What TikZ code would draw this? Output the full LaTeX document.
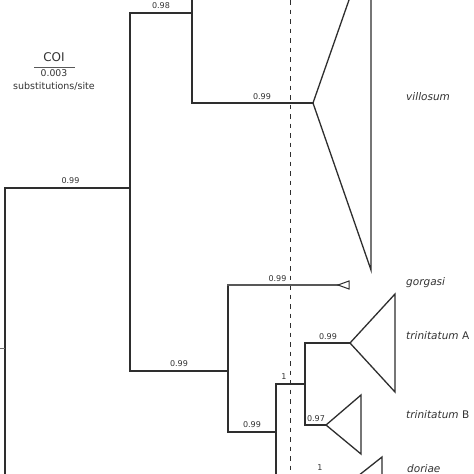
\documentclass[tikz,border=0pt]{standalone}
\usepackage{fontspec}
\setmainfont{DejaVu Sans}
\definecolor{ln}{HTML}{2E2E2E}
\definecolor{tx}{HTML}{333333}
\tikzset{
  br/.style={draw=ln, line width=1.3pt, line cap=rect, line join=miter},
  clade/.style={draw=ln, line width=1.3pt, line join=miter},
  supp/.style={text=tx, font=\fontsize{8}{8}\selectfont, inner sep=0pt},
  taxon/.style={text=tx, font=\fontsize{10.5}{11}\selectfont, anchor=west, inner sep=0pt},
  cutline/.style={draw=ln, line width=1pt, dash pattern=on 4.5pt off 5pt}
}
\begin{document}
\begin{tikzpicture}[x=1pt,y=-1pt]
\useasboundingbox (0,0) rectangle (474,474);
\clip (0,0) rectangle (474,474);
\fill[white] (0,0) rectangle (474,474);
% coordinates
\coordinate (rootbot) at (5,480);
\coordinate (rootA) at (5,188);
\coordinate (tick) at (0,348);
\coordinate (tickR) at (5,348);
\coordinate (nA) at (130,188);
\coordinate (nAt) at (130,13);
\coordinate (nAb) at (130,371);
\coordinate (nB) at (192,13);
\coordinate (nBt) at (192,-5);
\coordinate (nBb) at (192,103);
\coordinate (vil) at (313,103);
\coordinate (vilT) at (371,-63);
\coordinate (vilB) at (371,270);
\coordinate (nC) at (228,371);
\coordinate (nCt) at (228,285);
\coordinate (nCb) at (228,432);
\coordinate (gor) at (338,285);
\coordinate (gorT) at (349,281);
\coordinate (gorB) at (349,289);
\coordinate (nD) at (276,432);
\coordinate (nDt) at (276,384);
\coordinate (nDb) at (276,480);
\coordinate (nE) at (305,384);
\coordinate (nEt) at (305,343);
\coordinate (nEb) at (305,425);
\coordinate (triA) at (350,343);
\coordinate (triAT) at (395,294);
\coordinate (triAB) at (395,392);
\coordinate (triB) at (326,425);
\coordinate (triBT) at (361,395);
\coordinate (triBB) at (361,454);
\coordinate (dor) at (358,476);
\coordinate (dorT) at (382,457);
\coordinate (dorB) at (382,495);
\coordinate (cutT) at (290,0);
\coordinate (cutB) at (290,474);

% dashed line
\draw[cutline] (cutT) -- (cutB);

% tree branches
\draw[br] (rootbot) -- (rootA) -- (nA);
\draw[draw=ln!70, line width=0.6pt] (tick) -- (tickR);
\draw[br] (nAt) -- (nAb);
\draw[br] (nAt) -- (nB);
\draw[br] (nBt) -- (nBb) -- (vil);
\draw[br] (nAb) -- (nC);
\draw[br] (nCt) -- (nCb);
\draw[br, draw=ln!80] (nCt) -- (gor);
\draw[br] (nCb) -- (nD);
\draw[br] (nDt) -- (nDb);
\draw[br] (nDt) -- (nE);
\draw[br] (nEt) -- (nEb);
\draw[br] (nEt) -- (triA);
\draw[br] (nEb) -- (triB);

% collapsed clades
\draw[clade] (vil) -- (vilT) -- (vilB) -- cycle;
\draw[clade, line width=1pt] (gor) -- (gorT) -- (gorB) -- cycle;
\draw[clade] (triA) -- (triAT) -- (triAB) -- cycle;
\draw[clade] (triB) -- (triBT) -- (triBB) -- cycle;
\draw[clade] (dor) -- (dorT) -- (dorB) -- cycle;

% support values
\node[supp] (s1) at (161,6) {0.98};
\node[supp] (s2) at (70.5,180.5) {0.99};
\node[supp] (s3) at (262,97) {0.99};
\node[supp] (s4) at (179,364) {0.99};
\node[supp] (s5) at (277.5,278.5) {0.99};
\node[supp] (s6) at (328,337) {0.99};
\node[supp] (s7) at (284,377) {1};
\node[supp] (s8) at (252,425) {0.99};
\node[supp] (s9) at (316,419) {0.97};
\node[supp] (s10) at (320,468) {1};

% taxa
\node[taxon] (tv) at (406,97) {\itshape villosum};
\node[taxon] (tg) at (406,283) {\itshape gorgasi};
\node[taxon] (ta) at (406,336) {\textit{trinitatum} A};
\node[taxon] (tb) at (406,415) {\textit{trinitatum} B};
\node[taxon] (td) at (407,469) {\itshape doriae};

% scale bar
\node[text=tx, font=\fontsize{12}{12}\selectfont, inner sep=0pt] (coi) at (54,57) {COI};
\coordinate (sbL) at (34,67);
\coordinate (sbR) at (75,67);
\draw[draw=ln!80, line width=0.8pt] (sbL) -- (sbR);
\node[text=tx, font=\fontsize{9.3}{9.3}\selectfont, inner sep=0pt] (sc) at (54,73.5) {0.003};
\node[text=tx, font=\fontsize{9.5}{9.5}\selectfont, inner sep=0pt] (su) at (54,86) {substitutions/site};
\end{tikzpicture}
\end{document}
